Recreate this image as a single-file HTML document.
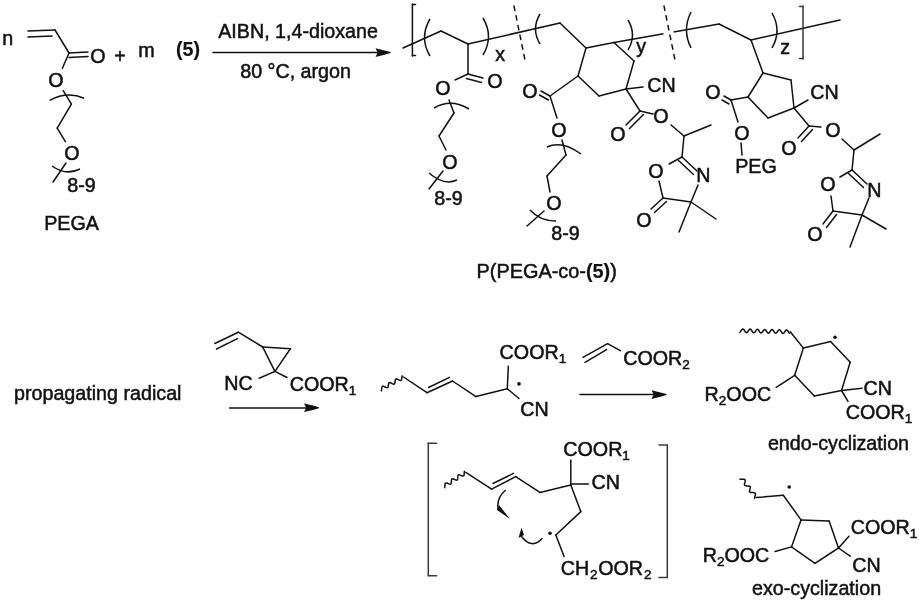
<!DOCTYPE html><html><head><meta charset="utf-8"><style>html,body{margin:0;padding:0;background:#fff;width:919px;height:601px;overflow:hidden}svg{display:block;filter:grayscale(1)}text{font-family:"Liberation Sans",sans-serif;fill:#111;stroke:#111;stroke-width:0.5}.s{fill:none;stroke:#111;stroke-width:1.5}.g{stroke:#3a3a3a}.d{stroke:#111;stroke-width:1.5;stroke-dasharray:4.5 5.4}.f{fill:#111;stroke:none}line{stroke:#111;stroke-width:1.5;stroke-linecap:round}</style></head><body>
<svg width="919" height="601" viewBox="0 0 919 601">
<line x1="28" y1="31" x2="55" y2="30"/>
<line x1="28" y1="37" x2="52" y2="36"/>
<line x1="55" y1="30" x2="69" y2="53"/>
<line x1="69" y1="53" x2="88" y2="52"/>
<line x1="69" y1="57.5" x2="88" y2="56.5"/>
<line x1="62.4" y1="68.2" x2="69" y2="53"/>
<line x1="63.2" y1="90.7" x2="71.4" y2="104.1"/>
<line x1="71.4" y1="104.1" x2="57.2" y2="128.1"/>
<line x1="57.2" y1="128.1" x2="65.4" y2="141.6"/>
<line x1="66" y1="163" x2="53" y2="182"/>
<line x1="213" y1="52.4" x2="380" y2="52.4"/>
<line x1="412.4" y1="4" x2="412.4" y2="56"/>
<line x1="412.4" y1="4.5" x2="415.5" y2="4.5"/>
<line x1="412.4" y1="55.5" x2="415.5" y2="55.5"/>
<line x1="403" y1="48" x2="441" y2="31"/>
<line x1="441" y1="31" x2="468" y2="44"/>
<line x1="468" y1="44" x2="560" y2="23"/>
<line x1="560" y1="23" x2="586" y2="48"/>
<line x1="468" y1="44" x2="468" y2="74"/>
<line x1="468" y1="74" x2="483" y2="78"/>
<line x1="466.5" y1="78.5" x2="481.5" y2="82.5"/>
<line x1="468" y1="74" x2="455" y2="80"/>
<line x1="449" y1="100" x2="454" y2="113"/>
<line x1="454" y1="113" x2="439" y2="136"/>
<line x1="439" y1="136" x2="446" y2="150"/>
<line x1="443" y1="171" x2="429" y2="189"/>
<line x1="586" y1="48" x2="614" y2="42.5"/>
<line x1="614" y1="42.5" x2="634" y2="61"/>
<line x1="634" y1="61" x2="626" y2="89"/>
<line x1="626" y1="89" x2="599" y2="96"/>
<line x1="599" y1="96" x2="578" y2="76"/>
<line x1="578" y1="76" x2="586" y2="48"/>
<line x1="614" y1="42.5" x2="719" y2="24"/>
<line x1="578" y1="76" x2="550" y2="96"/>
<line x1="550" y1="96" x2="541" y2="91"/>
<line x1="548.5" y1="100" x2="539.5" y2="95"/>
<line x1="550" y1="96" x2="557" y2="118"/>
<line x1="562" y1="140" x2="566" y2="155"/>
<line x1="566" y1="155" x2="547" y2="176"/>
<line x1="547" y1="176" x2="550" y2="192"/>
<line x1="544" y1="211" x2="527" y2="226"/>
<line x1="626" y1="89" x2="643" y2="87"/>
<line x1="626" y1="89" x2="640" y2="111"/>
<line x1="640" y1="111" x2="626" y2="125"/>
<line x1="643.5" y1="114.5" x2="629.5" y2="128.5"/>
<line x1="640" y1="111" x2="653" y2="114"/>
<line x1="671" y1="125" x2="684" y2="136"/>
<line x1="684" y1="136" x2="711" y2="125"/>
<line x1="684" y1="136" x2="682" y2="157"/>
<line x1="682" y1="157" x2="697" y2="171"/>
<line x1="678.5" y1="160.5" x2="693.5" y2="174.5"/>
<line x1="682" y1="157" x2="669" y2="164"/>
<line x1="659" y1="181" x2="663" y2="198"/>
<line x1="663" y1="198" x2="691" y2="202"/>
<line x1="691" y1="202" x2="698" y2="185"/>
<line x1="663" y1="198" x2="651" y2="209"/>
<line x1="666.5" y1="201.5" x2="654.5" y2="212.5"/>
<line x1="691" y1="202" x2="716" y2="219"/>
<line x1="691" y1="202" x2="679" y2="232"/>
<line x1="719" y1="24" x2="751" y2="40"/>
<line x1="751" y1="40" x2="840" y2="20"/>
<line x1="803" y1="6" x2="803" y2="59" class="g"/>
<line x1="799.5" y1="6.5" x2="803" y2="6.5" class="g"/>
<line x1="799.5" y1="58.5" x2="803" y2="58.5" class="g"/>
<line x1="751" y1="40" x2="763" y2="73"/>
<line x1="763" y1="73" x2="791" y2="80"/>
<line x1="791" y1="80" x2="794" y2="108"/>
<line x1="794" y1="108" x2="768" y2="118"/>
<line x1="768" y1="118" x2="748" y2="97"/>
<line x1="748" y1="97" x2="763" y2="73"/>
<line x1="748" y1="97" x2="731" y2="100"/>
<line x1="731" y1="100" x2="724" y2="96"/>
<line x1="729" y1="104" x2="722" y2="100"/>
<line x1="731" y1="100" x2="738" y2="122"/>
<line x1="741" y1="143" x2="742" y2="155"/>
<line x1="794" y1="108" x2="808" y2="100"/>
<line x1="794" y1="108" x2="809" y2="126"/>
<line x1="809" y1="126" x2="798" y2="138"/>
<line x1="812.5" y1="129.5" x2="801.5" y2="141.5"/>
<line x1="809" y1="126" x2="821" y2="127"/>
<line x1="842" y1="139" x2="854" y2="150"/>
<line x1="854" y1="150" x2="880" y2="134"/>
<line x1="854" y1="150" x2="852" y2="170"/>
<line x1="852" y1="170" x2="867" y2="184"/>
<line x1="848.5" y1="173.5" x2="863.5" y2="187.5"/>
<line x1="852" y1="170" x2="840" y2="177"/>
<line x1="831" y1="196" x2="833" y2="211"/>
<line x1="833" y1="211" x2="862" y2="215"/>
<line x1="862" y1="215" x2="869" y2="198"/>
<line x1="862" y1="215" x2="886" y2="229"/>
<line x1="862" y1="215" x2="850" y2="247"/>
<line x1="833" y1="211" x2="823" y2="224"/>
<line x1="836.5" y1="214.5" x2="826.5" y2="227.5"/>
<line x1="214.8" y1="343.5" x2="238.3" y2="332.2"/>
<line x1="216.5" y1="349" x2="237.4" y2="338.6"/>
<line x1="238.3" y1="332.2" x2="262.7" y2="347"/>
<line x1="262.7" y1="347" x2="290.5" y2="348.7"/>
<line x1="290.5" y1="348.7" x2="274.9" y2="371.4"/>
<line x1="274.9" y1="371.4" x2="262.7" y2="347"/>
<line x1="274.9" y1="371.4" x2="259.2" y2="378.3"/>
<line x1="274.9" y1="371.4" x2="287" y2="377.5"/>
<line x1="229.6" y1="408" x2="308" y2="408"/>
<line x1="403.5" y1="377" x2="427" y2="392.7"/>
<line x1="427" y1="392.7" x2="452.5" y2="381"/>
<line x1="452.5" y1="381" x2="476" y2="396.6"/>
<line x1="476" y1="396.6" x2="507.3" y2="388.8"/>
<line x1="507.3" y1="388.8" x2="508.3" y2="366.2"/>
<line x1="428.5" y1="387.5" x2="449.5" y2="377.3"/>
<line x1="507.3" y1="388.8" x2="519" y2="398.5"/>
<line x1="583" y1="357.4" x2="607.6" y2="343.7"/>
<line x1="585" y1="362.3" x2="606.6" y2="349.6"/>
<line x1="607.6" y1="343.7" x2="620.3" y2="350.6"/>
<line x1="580" y1="394.6" x2="656" y2="394.6"/>
<line x1="790.3" y1="331.8" x2="803.4" y2="348.1"/>
<line x1="803.4" y1="348.1" x2="830.6" y2="341.6"/>
<line x1="830.6" y1="341.6" x2="850.2" y2="362.2"/>
<line x1="850.2" y1="362.2" x2="841.5" y2="390.5"/>
<line x1="841.5" y1="390.5" x2="814.3" y2="396"/>
<line x1="814.3" y1="396" x2="794.7" y2="375.3"/>
<line x1="794.7" y1="375.3" x2="803.4" y2="348.1"/>
<line x1="794.7" y1="375.3" x2="776.2" y2="387.3"/>
<line x1="841.5" y1="390.5" x2="862.1" y2="388.3"/>
<line x1="841.5" y1="390.5" x2="848" y2="401.4"/>
<line x1="436.6" y1="443.3" x2="428.3" y2="443.3" class="g"/>
<line x1="428.3" y1="443.3" x2="428.3" y2="575.7" class="g"/>
<line x1="428.3" y1="575.7" x2="436.6" y2="575.7" class="g"/>
<line x1="659" y1="445" x2="667.3" y2="445" class="g"/>
<line x1="667.3" y1="445" x2="667.3" y2="577.4" class="g"/>
<line x1="667.3" y1="577.4" x2="659" y2="577.4" class="g"/>
<line x1="465.8" y1="472.4" x2="491.6" y2="489.1"/>
<line x1="491.6" y1="489.1" x2="515.7" y2="476.6"/>
<line x1="515.7" y1="476.6" x2="539.9" y2="492.4"/>
<line x1="539.9" y1="492.4" x2="570.8" y2="485"/>
<line x1="570.8" y1="485" x2="570.8" y2="460"/>
<line x1="493" y1="483.5" x2="513.5" y2="473.3"/>
<line x1="570.8" y1="484" x2="588.3" y2="484"/>
<line x1="570.8" y1="485" x2="580.8" y2="511.6"/>
<line x1="580.8" y1="511.6" x2="555.8" y2="535"/>
<line x1="555.8" y1="535" x2="564.1" y2="556.6"/>
<line x1="756.3" y1="497.6" x2="783.3" y2="495.2"/>
<line x1="783.3" y1="495.2" x2="801" y2="519.9"/>
<line x1="801" y1="519.9" x2="829.1" y2="521"/>
<line x1="829.1" y1="521" x2="838.5" y2="548"/>
<line x1="838.5" y1="548" x2="815" y2="563.3"/>
<line x1="815" y1="563.3" x2="791.5" y2="546.9"/>
<line x1="791.5" y1="546.9" x2="801" y2="519.9"/>
<line x1="791.5" y1="546.9" x2="775.1" y2="551.5"/>
<line x1="838.5" y1="548" x2="849" y2="536.3"/>
<line x1="838.5" y1="548" x2="850.2" y2="556.2"/>
<text x="176" y="56" font-weight="bold" font-size="19.7" style="stroke-width:0.15">(5)</text>
<path d="M49.7,100.4 Q67,91 84.1,98.2" class="s"/>
<path d="M52,166 Q66,176 80,169" class="s"/>
<path d="M390.5,52.1 L384.5,50.4 L375.5,48.300000000000004 L377.7,52.6 L375.5,56.9 L384.5,54.800000000000004 L390.5,53.1 Z" class="f"/>
<path d="M430,19 Q419,37.5 430,56" class="s"/>
<path d="M483,18 Q494,36.5 483,55" class="s"/>
<path d="M434,108 Q451,98 469,109" class="s"/>
<path d="M429,173 Q444,186 457,180" class="s"/>
<line x1="514" y1="6" x2="525" y2="60" class="d"/>
<path d="M540,14 Q531,29 540,44" class="s"/>
<path d="M628,20 Q637,35 628,50" class="s"/>
<line x1="663.5" y1="33.8" x2="673.5" y2="32.0" style="stroke:#fff;stroke-width:3.5;stroke-linecap:butt"/>
<line x1="664" y1="6" x2="675" y2="60" class="d"/>
<path d="M691,12 Q682,30 691,48" class="s"/>
<path d="M547,147 Q562,140 581,154" class="s"/>
<path d="M530,210 Q540,221 556,221" class="s"/>
<path d="M772,13 Q782,30.5 772,48" class="s"/>
<text x="476.5" y="277.5" font-size="19.9">P(PEGA-co-<tspan font-weight="bold" style="stroke-width:0.15">(5)</tspan>)</text>
<path d="M319,407.3 L313,405.6 L304,403.5 L306.2,407.8 L304,412.1 L313,410.0 L319,408.3 Z" class="f"/>
<path d="M380.86,391.28 L381.21,390.94 L381.44,390.37 L381.59,389.63 L381.68,388.79 L381.77,387.96 L381.91,387.22 L382.15,386.65 L382.50,386.30 L382.99,386.20 L383.59,386.31 L384.29,386.60 L385.04,386.98 L385.78,387.36 L386.48,387.64 L387.09,387.76 L387.57,387.65 L387.92,387.31 L388.16,386.74 L388.30,386.00 L388.39,385.16 L388.49,384.33 L388.63,383.59 L388.86,383.02 L389.22,382.67 L389.70,382.57 L390.31,382.68 L391.00,382.97 L391.75,383.35 L392.50,383.73 L393.19,384.02 L393.80,384.13 L394.28,384.03 L394.64,383.68 L394.87,383.11 L395.01,382.37 L395.11,381.54 L395.20,380.70 L395.34,379.96 L395.58,379.39 L395.93,379.05 L396.41,378.94 L397.02,379.06 L397.72,379.34 L398.46,379.72 L399.21,380.10 L399.91,380.39 L400.51,380.50 L401.00,380.40 L401.35,380.05 L401.59,379.48 L401.73,378.74 L401.82,377.91 L401.91,377.07 L402.06,376.33 L402.29,375.76 L402.64,375.42" class="s"/>
<circle cx="519" cy="383.9" r="1.8" class="f"/>
<path d="M666.5,394.1 L660.5,392.40000000000003 L651.5,390.3 L653.7,394.6 L651.5,398.90000000000003 L660.5,396.8 L666.5,395.1 Z" class="f"/>
<path d="M739.16,332.50 L739.62,332.37 L740.09,331.99 L740.55,331.42 L741.03,330.74 L741.50,330.06 L741.96,329.49 L742.43,329.11 L742.89,328.98 L743.34,329.13 L743.79,329.53 L744.23,330.12 L744.68,330.82 L745.12,331.52 L745.56,332.11 L746.01,332.51 L746.46,332.66 L746.92,332.53 L747.39,332.15 L747.85,331.58 L748.33,330.90 L748.80,330.22 L749.26,329.64 L749.73,329.26 L750.19,329.14 L750.64,329.28 L751.09,329.68 L751.53,330.28 L751.98,330.98 L752.42,331.67 L752.86,332.27 L753.31,332.67 L753.76,332.81 L754.22,332.69 L754.69,332.31 L755.15,331.73 L755.62,331.05 L756.10,330.37 L756.56,329.80 L757.03,329.42 L757.49,329.29 L757.94,329.44 L758.39,329.84 L758.83,330.43 L759.27,331.13 L759.72,331.83 L760.16,332.42 L760.61,332.82 L761.06,332.97 L761.52,332.84 L761.99,332.46 L762.45,331.89 L762.92,331.21 L763.40,330.53 L763.86,329.96 L764.33,329.58 L764.79,329.45 L765.24,329.60 L765.69,330.00 L766.13,330.59 L766.58,331.29 L767.02,331.99 L767.46,332.58 L767.91,332.98 L768.36,333.13 L768.82,333.00 L769.29,332.62 L769.75,332.05 L770.23,331.37 L770.70,330.69 L771.16,330.12 L771.63,329.73 L772.09,329.61 L772.54,329.75 L772.99,330.15 L773.43,330.75 L773.88,331.45 L774.32,332.14 L774.76,332.74 L775.21,333.14 L775.66,333.29 L776.12,333.16 L776.59,332.78 L777.05,332.20 L777.52,331.52 L778.00,330.85 L778.46,330.27 L778.93,329.89 L779.39,329.76 L779.84,329.91 L780.29,330.31 L780.73,330.91 L781.17,331.60 L781.62,332.30 L782.06,332.90 L782.51,333.30 L782.96,333.44 L783.42,333.32 L783.89,332.93 L784.35,332.36 L784.82,331.68 L785.30,331.00 L785.76,330.43 L786.23,330.05 L786.69,329.92 L787.14,330.07 L787.59,330.47 L788.03,331.06 L788.47,331.76 L788.92,332.46 L789.36,333.05 L789.81,333.45 L790.26,333.60" class="s"/>
<circle cx="835" cy="337.2" r="1.8" class="f"/>
<path d="M444.26,488.12 L444.59,487.75 L444.78,487.17 L444.87,486.42 L444.91,485.59 L444.94,484.75 L445.03,484.00 L445.22,483.42 L445.55,483.05 L446.03,482.91 L446.64,482.99 L447.35,483.23 L448.12,483.56 L448.89,483.89 L449.60,484.13 L450.21,484.20 L450.69,484.07 L451.02,483.70 L451.21,483.11 L451.30,482.36 L451.34,481.53 L451.37,480.69 L451.46,479.95 L451.65,479.36 L451.98,478.99 L452.46,478.85 L453.07,478.93 L453.78,479.17 L454.55,479.50 L455.32,479.83 L456.03,480.07 L456.64,480.15 L457.12,480.01 L457.45,479.64 L457.64,479.05 L457.73,478.31 L457.76,477.47 L457.80,476.64 L457.89,475.89 L458.08,475.30 L458.41,474.93 L458.89,474.80 L459.50,474.87 L460.21,475.11 L460.98,475.44 L461.75,475.77 L462.46,476.01 L463.07,476.09 L463.55,475.95 L463.88,475.58 L464.07,475.00 L464.16,474.25 L464.19,473.41 L464.23,472.58 L464.32,471.83 L464.51,471.25 L464.84,470.88" class="s"/>
<circle cx="550" cy="533.3" r="1.8" class="f"/>
<path d="M505.7,490 Q496,498 498.2,510" class="s"/>
<path d="M497,510 L510,519 L499,505 Z" class="f"/>
<path d="M542.4,538.3 Q532,550 521,536" class="s"/>
<path d="M521.5,527.5 L518.5,538 L524,535 Z" class="f"/>
<path d="M739.57,478.69 L740.00,479.03 L740.63,479.21 L741.41,479.27 L742.27,479.27 L743.14,479.26 L743.92,479.33 L744.55,479.51 L744.98,479.84 L745.19,480.34 L745.20,480.99 L745.05,481.76 L744.83,482.60 L744.60,483.44 L744.45,484.21 L744.46,484.86 L744.67,485.36 L745.10,485.69 L745.73,485.87 L746.51,485.94 L747.38,485.93 L748.24,485.93 L749.02,485.99 L749.65,486.17 L750.08,486.51 L750.29,487.01 L750.30,487.66 L750.15,488.43 L749.92,489.27 L749.70,490.10 L749.55,490.87 L749.56,491.53 L749.77,492.03 L750.20,492.36 L750.83,492.54 L751.61,492.60 L752.47,492.60 L753.34,492.60 L754.12,492.66 L754.75,492.84 L755.18,493.17 L755.39,493.67 L755.40,494.33 L755.25,495.10 L755.02,495.93 L754.80,496.77 L754.65,497.54 L754.66,498.19 L754.87,498.69" class="s"/>
<circle cx="789.2" cy="487" r="1.8" class="f"/>
<text x="2.20" y="45" font-size="19.7">n</text>
<text x="90.20" y="62.5" font-size="19.7">O</text>
<text x="114.20" y="62.5" font-size="19.7">+</text>
<text x="138.20" y="57" font-size="19.7">m</text>
<text x="48.20" y="86.5" font-size="19.7">O</text>
<text x="64.20" y="159.5" font-size="19.7">O</text>
<text x="67.20" y="192" font-size="19.7">8-9</text>
<text x="44.20" y="230" font-size="19.7">PEGA</text>
<text x="218.20" y="38.3" font-size="19.7">AIBN, 1,4-dioxane</text>
<text x="240.20" y="77.5" font-size="19.7">80 °C, argon</text>
<text x="495.20" y="61" font-size="19.7">x</text>
<text x="487.20" y="87.5" font-size="19.7">O</text>
<text x="435.20" y="94.5" font-size="19.7">O</text>
<text x="442.20" y="168.5" font-size="19.7">O</text>
<text x="434.20" y="205" font-size="19.7">8-9</text>
<text x="636.20" y="53" font-size="19.7">y</text>
<text x="522.20" y="97.5" font-size="19.7">O</text>
<text x="551.20" y="136.5" font-size="19.7">O</text>
<text x="546.20" y="209.5" font-size="19.7">O</text>
<text x="551.20" y="240" font-size="19.7">8-9</text>
<text x="647.20" y="91.5" font-size="19.7">CN</text>
<text x="610.20" y="140.5" font-size="19.7">O</text>
<text x="653.20" y="123" font-size="19.7">O</text>
<text x="696.20" y="182" font-size="19.7">N</text>
<text x="648.20" y="178" font-size="19.7">O</text>
<text x="636.20" y="226.5" font-size="19.7">O</text>
<text x="780.20" y="54" font-size="19.7">z</text>
<text x="705.20" y="98.5" font-size="19.7">O</text>
<text x="734.20" y="139.5" font-size="19.7">O</text>
<text x="735.20" y="173" font-size="19.7">PEG</text>
<text x="810.20" y="98.5" font-size="19.7">CN</text>
<text x="781.20" y="154.5" font-size="19.7">O</text>
<text x="825.20" y="136.5" font-size="19.7">O</text>
<text x="867.20" y="197" font-size="19.7">N</text>
<text x="820.20" y="191" font-size="19.7">O</text>
<text x="807.20" y="240.5" font-size="19.7">O</text>
<text x="14.00" y="400.3" font-size="19.7">propagating radical</text>
<text x="224.20" y="389.5" font-size="19.7">NC</text>
<text x="289.70" y="390.5" font-size="19.7">COOR<tspan font-size="13.5" dy="4">1</tspan></text>
<text x="499.60" y="359.4" font-size="19.7">COOR<tspan font-size="13.5" dy="4">1</tspan></text>
<text x="520.20" y="416" font-size="19.7">CN</text>
<text x="623.20" y="365.3" font-size="19.7">COOR<tspan font-size="13.5" dy="4">2</tspan></text>
<text x="704.60" y="401.4" font-size="19.7">R<tspan font-size="13.5" dy="4">2</tspan><tspan dy="-4">OOC</tspan></text>
<text x="863.50" y="394.9" font-size="19.7">CN</text>
<text x="845.70" y="418.5" font-size="19.7">COOR<tspan font-size="13.5" dy="4">1</tspan></text>
<text x="767.90" y="449.7" font-size="19.7">endo-cyclization</text>
<text x="563.30" y="455.8" font-size="19.7">COOR<tspan font-size="13.5" dy="4">1</tspan></text>
<text x="591.60" y="489.1" font-size="19.7">CN</text>
<text x="560.80" y="575.4" font-size="19.7">CH<tspan font-size="13.5" dy="4" dx="0.8">2</tspan><tspan dy="-4" dx="0.6">OOR</tspan><tspan font-size="13.5" dy="4" dx="1">2</tspan></text>
<text x="702.70" y="562.3" font-size="19.7">R<tspan font-size="13.5" dy="4">2</tspan><tspan dy="-4">OOC</tspan></text>
<text x="850.70" y="534.1" font-size="19.7">COOR<tspan font-size="13.5" dy="4">1</tspan></text>
<text x="852.20" y="572.3" font-size="19.7">CN</text>
<text x="752.00" y="595" font-size="19.7">exo-cyclization</text>
</svg></body></html>
